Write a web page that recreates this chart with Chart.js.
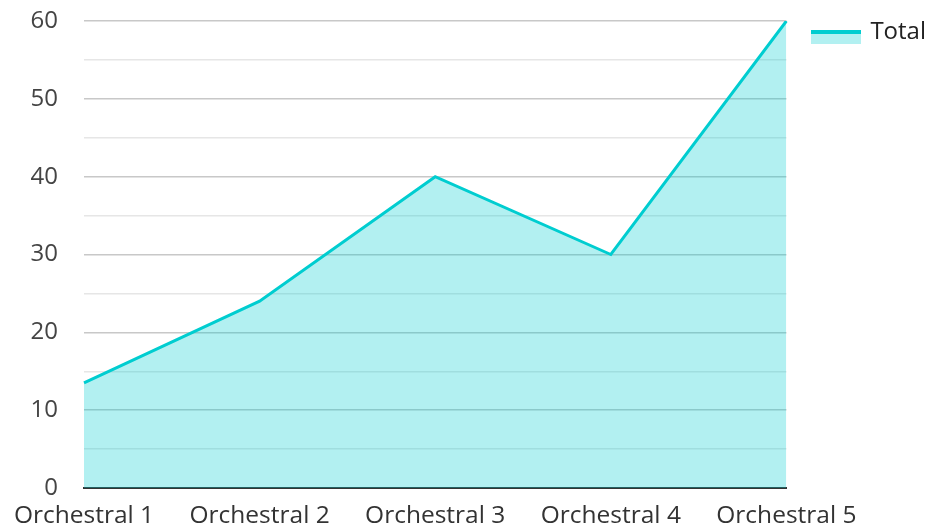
<!DOCTYPE html>
<html>
<head>
<meta charset="utf-8">
<script src="https://cdn.jsdelivr.net/npm/chart.js@4/dist/chart.umd.min.js"></script>
<style>
  html, body { margin: 0; padding: 0; background: #fff; }
  #wrap { width: 927px; height: 529px; }
</style>
</head>
<body>
<div id="wrap"><canvas id="chart"></canvas></div>
<script>
const categories = ['Orchestral 1', 'Orchestral 2', 'Orchestral 3', 'Orchestral 4', 'Orchestral 5'];
const totals = [13.5, 24, 40, 30, 60];
const seriesName = 'Total';

const lineColor = '#00cdd0';
const fillColor = 'rgba(0, 206, 209, 0.3)';

// legend swatch: thick line on top, fill below (sits a bit under the text centre)
const swatch = document.createElement('canvas');
swatch.width = 50; swatch.height = 26;
const sctx = swatch.getContext('2d');
sctx.fillStyle = fillColor;
sctx.fillRect(0, 14, 50, 11);
sctx.fillStyle = lineColor;
sctx.fillRect(0, 11, 50, 4);

Chart.defaults.font.family = '"Open Sans", "Noto Sans", sans-serif';
Chart.defaults.color = '#444';

const ctx = document.getElementById('chart').getContext('2d');
new Chart(ctx, {
    type: 'line',
    data: {
        labels: categories,
        datasets: [{
            label: seriesName,
            data: totals,
            borderColor: lineColor,
            backgroundColor: fillColor,
            borderWidth: 3,
            fill: 'origin',
            tension: 0,
            pointRadius: 0,
            pointStyle: swatch
        }]
    },
    options: {
        responsive: true,
        maintainAspectRatio: false,
        animation: false,
        layout: { padding: { top: -8, left: 0, right: -9, bottom: 0 } },
        plugins: {
            tooltip: { enabled: false },
            legend: {
                position: 'right',
                align: 'start',
                labels: {
                    usePointStyle: true,
                    pointStyleWidth: 44,
                    boxHeight: 16,
                    font: { size: 24 },
                    color: '#222',
                    padding: 28
                }
            }
        },
        scales: {
            x: {
                offset: false,
                grid: { display: false, drawTicks: false },
                border: { display: true, color: '#333', width: 2 },
                ticks: { font: { size: 24.5, lineHeight: 1 }, color: '#333', padding: 16, maxRotation: 0 },
                afterFit: s => { s.paddingLeft = 84; s.paddingRight = 0; s.height = 41; }
            },
            y: {
                min: 0,
                max: 60,
                border: { display: false },
                grid: {
                    drawTicks: false,
                    color: c => (c.tick && c.tick.value % 10 === 0) ? '#c8c8c8' : '#e6e6e6',
                    lineWidth: 1.5
                },
                ticks: {
                    stepSize: 5,
                    font: { size: 24 },
                    color: '#444',
                    padding: 26,
                    callback: v => (v % 10 === 0 ? v : '')
                },
                afterFit: s => { s.paddingTop = 21; s.paddingBottom = 0; }
            }
        }
    }
});
</script>
</body>
</html>
